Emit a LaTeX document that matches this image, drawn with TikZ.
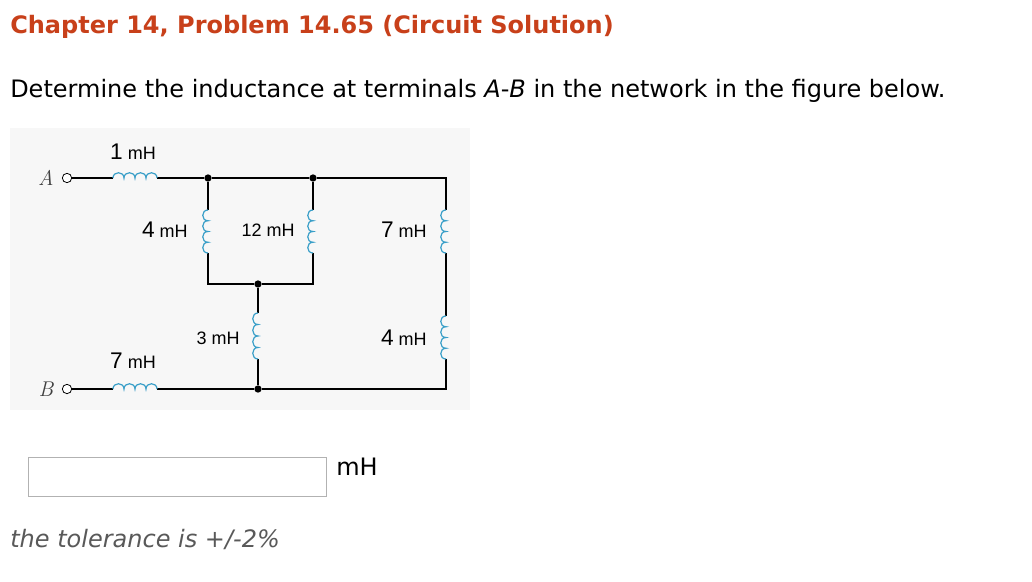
\documentclass[tikz,border=0pt]{standalone}
\usepackage{fontspec}
\setmainfont{DejaVu Sans}
\newfontfamily\lab{Liberation Sans}
\definecolor{titlec}{HTML}{C8401A}
\definecolor{coilc}{HTML}{3A9FC8}
\definecolor{bgc}{HTML}{F7F7F7}
\begin{document}
\begin{tikzpicture}[x=0.75pt,y=-0.75pt,
  wire/.style={line width=0.9pt,black},
  coilline/.style={line width=0.9pt,coilc},
  dotn/.style={circle,fill=black,inner sep=0pt,minimum size=5.5pt},
  term/.style={circle,draw=black,fill=white,line width=0.6pt,inner sep=0pt,minimum size=7pt},
  val/.style={font=\lab\fontsize{13.5}{13.5}\selectfont,inner sep=0pt},
  txt/.style={anchor=base west,inner sep=0pt}]
\useasboundingbox (0,0) rectangle (1032,582);
\fill[white] (0,0) rectangle (1032,582);
\node[txt,text=titlec,font=\bfseries\fontsize{18}{18}\selectfont] (title) at (10,33) {Chapter 14, Problem 14.65 (Circuit Solution)};
\node[txt,font=\fontsize{18}{18}\selectfont] (q) at (10,97) {Determine the inductance at terminals \textit{A}-\textit{B} in the network in the figure below.};
\fill[bgc] (10,128) rectangle (470,410);
\node[term] (A) at (67,178) {};
\node[term] (B) at (67,389) {};
\coordinate (l1a) at (113,178); \coordinate (l1b) at (157,178);
\coordinate (l2a) at (113,389); \coordinate (l2b) at (157,389);
\node[dotn] (n1) at (208,178) {};
\node[dotn] (n2) at (313,178) {};
\coordinate (tr) at (446,178);
\coordinate (br) at (446,389);
\node[dotn] (n3) at (258,284) {};
\node[dotn] (n4) at (258,389) {};
\coordinate (c4a) at (208,210); \coordinate (c4b) at (208,253);
\coordinate (c12a) at (313,210); \coordinate (c12b) at (313,253);
\coordinate (c7a) at (446,210); \coordinate (c7b) at (446,253);
\coordinate (c4ra) at (446,316); \coordinate (c4rb) at (446,359);
\coordinate (c3a) at (258,313); \coordinate (c3b) at (258,359);
\coordinate (bl4) at (208,284); \coordinate (bl12) at (313,284);
\draw[wire] (A) -- (l1a);
\draw[wire] (l1b) -- (n1) -- (n2) -- (tr) -- (c7a);
\draw[wire] (c7b) -- (c4ra);
\draw[wire] (c4rb) -- (br) -- (n4) -- (l2b);
\draw[wire] (l2a) -- (B);
\draw[wire] (n1) -- (c4a); \draw[wire] (c4b) -- (bl4) -- (n3) -- (bl12) -- (c12b);
\draw[wire] (n2) -- (c12a);
\draw[wire] (n3) -- (c3a); \draw[wire] (c3b) -- (n4);
\foreach \p in {l1a,l2a}{
  \draw[coilline] (\p) foreach \i in {1,...,4}{ .. controls +(0,-7) and +(0,-7) .. ++(11,0) };
}
\foreach \p/\s in {c4a/10.75,c12a/10.75,c7a/10.75,c4ra/10.75,c3a/11.5}{
  \draw[coilline] (\p) foreach \i in {1,...,4}{ .. controls +(-7,0) and +(-7,0) .. ++(0,\s) };
}
\node[val] (v1) at (133,152) {{\fontsize{17}{17}\selectfont 1} mH};
\node[val] (v7b) at (133,361) {{\fontsize{17}{17}\selectfont 7} mH};
\node[val,anchor=east] (v4) at (188,230) {{\fontsize{17}{17}\selectfont 4} mH};
\node[val,anchor=east] (v12) at (295,230) {12 mH};
\node[val,anchor=east] (v7) at (427,230) {{\fontsize{17}{17}\selectfont 7} mH};
\node[val,anchor=east] (v3) at (240,338) {3 mH};
\node[val,anchor=east] (v4r) at (427,338) {{\fontsize{17}{17}\selectfont 4} mH};
\node[font=\fontfamily{lmr}\itshape\fontsize{16}{16}\selectfont,text=black!75,inner sep=0pt] (la) at (46,178) {A};
\node[font=\fontfamily{lmr}\itshape\fontsize{16}{16}\selectfont,text=black!75,inner sep=0pt] (lb) at (46,389) {B};
\draw[black!30,line width=0.75pt] (28,457) rectangle (326,496);
\node[txt,font=\fontsize{18}{18}\selectfont] (mh) at (336,475) {mH};
\node[txt,font=\itshape\fontsize{18}{18}\selectfont,text=black!65] (tol) at (10,547) {the tolerance is +/-2\%};
\end{tikzpicture}
\end{document}
